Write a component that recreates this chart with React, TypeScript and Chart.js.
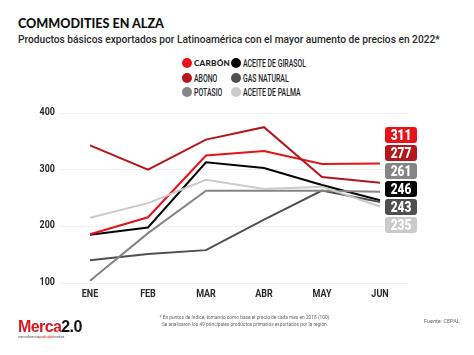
import React, { useEffect, useRef } from "react";
import { Chart, registerables } from "chart.js";

Chart.register(...registerables);

const months = ["ENE", "FEB", "MAR", "ABR", "MAY", "JUN"];
const carbon = [186, 216, 325, 333, 310, 311];
const abono = [343, 300, 353, 375, 287, 277];
const potasio = [104, 188, 263, 263, 263, 261];
const girasol = [185, 198, 313, 303, 273, 246];
const gasNatural = [140, 151, 158, 212, 263, 243];
const palma = [215, 241, 282, 266, 270, 235];
const yTicks = [100, 200, 300, 400];

const COL = {
  carbon: "#e5131b",
  abono: "#b3171c",
  potasio: "#858585",
  girasol: "#050505",
  gas: "#4f4f4f",
  palma: "#cacaca",
};

const badges = [
  { value: carbon[5], color: COL.carbon },
  { value: abono[5], color: COL.abono },
  { value: potasio[5], color: COL.potasio },
  { value: girasol[5], color: COL.girasol },
  { value: gasNatural[5], color: COL.gas },
  { value: palma[5], color: COL.palma },
];

function condensedText(ctx: CanvasRenderingContext2D, text: string, x: number, y: number, sx: number, align: CanvasTextAlign) {
  ctx.save();
  ctx.translate(x, y);
  ctx.scale(sx, 1);
  ctx.textAlign = align;
  ctx.fillText(text, 0, 0);
  ctx.restore();
}

const labelPlugin = {
  id: "condensedLabels",
  afterDraw(chart: any) {
    const ctx = chart.ctx as CanvasRenderingContext2D;
    const xs = chart.scales.x;
    const ys = chart.scales.y;
    const area = chart.chartArea;
    ctx.save();
    ctx.fillStyle = "#2a2a2a";
    ctx.font = "bold 11.5px Roboto, sans-serif";
    ctx.textBaseline = "middle";
    xs.ticks.forEach((t: any, i: number) => {
      condensedText(ctx, String(xs.getLabelForValue(t.value)), xs.getPixelForTick(i), area.bottom + 11, 0.78, "center");
    });
    ys.ticks.forEach((t: any) => {
      condensedText(ctx, String(t.value), area.left - 6, ys.getPixelForValue(t.value) - 1, 0.78, "right");
    });
    ctx.restore();
  },
  afterDatasetsDraw(chart: any) {
    const ctx = chart.ctx as CanvasRenderingContext2D;
    const xs = chart.scales.x;
    const cx = xs.getPixelForValue(5) + 21;
    const top = chart.chartArea.top + 22;
    ctx.save();
    badges.forEach((b, i) => {
      const cy = top + i * 18;
      const w = 32, h = 16;
      ctx.fillStyle = b.color;
      ctx.beginPath();
      (ctx as any).roundRect(cx - w / 2, cy - h / 2, w, h, 3);
      ctx.fill();
      ctx.fillStyle = "#ffffff";
      ctx.font = "900 14px Roboto, sans-serif";
      ctx.textBaseline = "middle";
      condensedText(ctx, String(b.value), cx, cy + 1, 0.85, "center");
    });
    ctx.restore();
  },
};

function ds(label: string, data: number[], color: string) {
  return {
    label,
    data,
    borderColor: color,
    backgroundColor: color,
    borderWidth: 2,
    pointRadius: 0,
    tension: 0,
  };
}

export default function App() {
  const ref = useRef<HTMLCanvasElement>(null);
  useEffect(() => {
    if (!ref.current) return;
    const chart = new Chart(ref.current, {
      type: "line",
      data: {
        labels: months,
        datasets: [
          ds("ACEITE DE PALMA", palma, COL.palma),
          ds("POTASIO", potasio, COL.potasio),
          ds("GAS NATURAL", gasNatural, COL.gas),
          ds("ABONO", abono, COL.abono),
          ds("CARBÓN", carbon, COL.carbon),
          ds("ACEITE DE GIRASOL", girasol, COL.girasol),
        ],
      },
      options: {
        animation: false,
        responsive: false,
        maintainAspectRatio: false,
        layout: { padding: { left: 20, right: 65, top: 113, bottom: 52 } },
        plugins: { legend: { display: false }, tooltip: { enabled: false } },
        scales: {
          x: {
            offset: true,
            grid: { display: false, drawTicks: false },
            border: { display: false },
            ticks: { display: false },
            afterFit: (s: any) => { s.height = 20; },
          },
          y: {
            min: 100,
            max: 400,
            afterBuildTicks: (s: any) => { s.ticks = yTicks.map((v) => ({ value: v })); },
            grid: { color: "#f1f1f1", drawTicks: false },
            border: { display: false },
            ticks: { display: false },
            afterFit: (s: any) => { s.width = 41; },
          },
        },
      },
      plugins: [labelPlugin],
    });
    return () => chart.destroy();
  }, []);

  const legendItems = [
    { label: "CARBÓN", color: COL.carbon, x: 187, y: 63, special: true },
    { label: "ABONO", color: COL.abono, x: 187, y: 78 },
    { label: "POTASIO", color: COL.potasio, x: 187, y: 92 },
    { label: "ACEITE DE GIRASOL", color: COL.girasol, x: 236, y: 63 },
    { label: "GAS NATURAL", color: COL.gas, x: 236, y: 78 },
    { label: "ACEITE DE PALMA", color: COL.palma, x: 236, y: 92 },
  ];

  return (
    <div style={{ position: "absolute", left: 0, top: 0, width: 474, height: 355, background: "#fff", overflow: "hidden" }}>
      <div style={{ position: "absolute", left: 18, top: 16, fontFamily: "Lato, sans-serif", fontWeight: 900, fontSize: 12.6, color: "#111", whiteSpace: "nowrap", lineHeight: "16px" }}>
        COMMODITIES EN ALZA
      </div>
      <div style={{ position: "absolute", left: 18, top: 33, fontFamily: "Roboto, sans-serif", fontWeight: 500, fontSize: 10.2, color: "#2a2a2a", whiteSpace: "nowrap", lineHeight: "14px" }}>
        Productos básicos exportados por Latinoamérica con el mayor aumento de precios en 2022*
      </div>
      {legendItems.map((it) => (
        <div key={it.label} style={{ position: "absolute", left: it.x - 5, top: it.y - 7, height: 14, display: "flex", alignItems: "center", whiteSpace: "nowrap" }}>
          <span style={{ width: 10, height: 10, borderRadius: 5, background: it.color, display: "inline-block", marginRight: 2, flex: "none" }} />
          {it.special ? (
            <span style={{ fontFamily: "Lato, sans-serif", fontWeight: 900, fontSize: 8.2, color: "#222", letterSpacing: 0.2 }}>{it.label}</span>
          ) : (
            <span style={{ fontFamily: "Roboto, sans-serif", fontWeight: 500, fontSize: 10, color: "#222", display: "inline-block", transform: "scaleX(0.69)", transformOrigin: "left center" }}>{it.label}</span>
          )}
        </div>
      ))}
      <canvas ref={ref} width={474} height={355} style={{ position: "absolute", left: 0, top: 0, width: 474, height: 355 }} />
      <div style={{ position: "absolute", left: 18, top: 320, whiteSpace: "nowrap", lineHeight: "14px" }}>
        <span style={{ fontFamily: "'Liberation Sans', Arial, sans-serif", fontWeight: 700, fontSize: 16, color: "#d71920", letterSpacing: -0.6 }}>Merca</span>
        <span style={{ fontFamily: "'Liberation Sans', Arial, sans-serif", fontWeight: 700, fontSize: 16, color: "#111", letterSpacing: -0.6 }}>2.0</span>
      </div>
      <div style={{ position: "absolute", left: 18, top: 335, fontFamily: "Roboto, sans-serif", fontSize: 3.2, color: "#555", whiteSpace: "nowrap" }}>
        mercadotecnia<span style={{ color: "#d71920" }}>publicidad</span>medios
      </div>
      <div style={{ position: "absolute", left: 120, width: 250, top: 314, textAlign: "center", fontFamily: "Roboto, sans-serif", fontSize: 4.8, color: "#666", lineHeight: "7px", whiteSpace: "nowrap" }}>
        * En puntos de índice, tomando como base el precio de cada mes en 2018 (100).<br />
        Se analizaron los 49 principales productos primarios exportados por la región.
      </div>
      <div style={{ position: "absolute", left: 424, top: 318, fontFamily: "Roboto, sans-serif", fontSize: 5.5, color: "#666", whiteSpace: "nowrap" }}>
        Fuente: CEPAL
      </div>
    </div>
  );
}
